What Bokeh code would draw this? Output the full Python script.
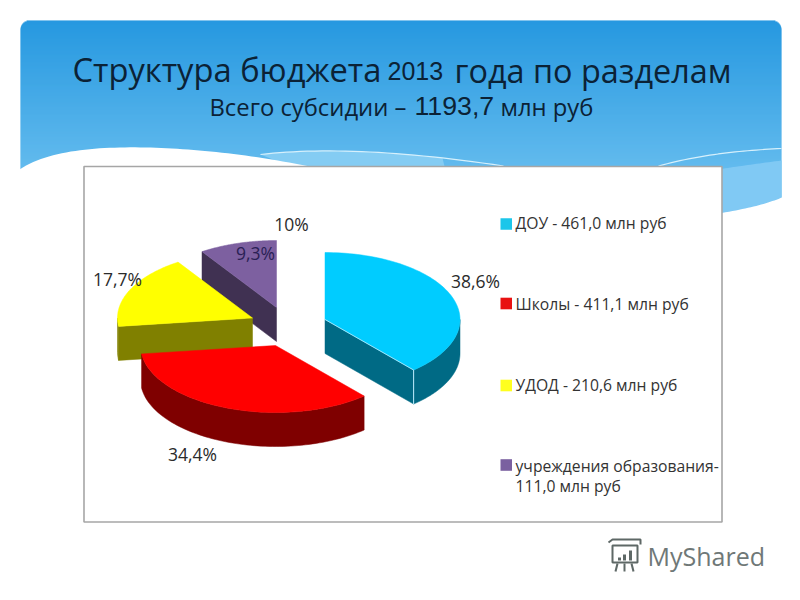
import numpy as np
from bokeh.plotting import figure
from bokeh.embed import file_html
from bokeh.resources import INLINE
from bokeh.core.properties import value

# ---- data ----
categories = ["ДОУ", "Школы", "УДОД", "учреждения образования"]
shares = [38.6, 34.4, 17.7, 9.3]
share_labels = ["38,6%", "34,4%", "17,7%", "9,3%"]
extra_label = "10%"
legend_lines = [["ДОУ - 461,0 млн руб"], ["Школы - 411,1 млн руб"], ["УДОД - 210,6 млн руб"],
                ["учреждения образования-", "111,0 млн руб"]]

# ---- style / layout ----
top_colors = ["#00CCFF", "#FF0000", "#FFFF00", "#7D60A0"]
wall_colors = ["#006A85", "#7F0000", "#808000", "#403152"]
legend_colors = ["#1CC6EA", "#E81212", "#FFFF1E", "#7A60A0"]
apexes = [(324.5, 319), (275, 345), (252, 317.5), (276, 307)]   # exploded slice centres
label_pos = [(475, 280), (192, 453), (117, 278), (255, 252)]
label_colors = ["#2B2B2B", "#2B2B2B", "#2B2B2B", "#2A1F55"]
RX, RY, DEPTH = 135, 67, 34
TITLE = "#0B2236"
FONT = value("Open Sans")
ARIAL = value("Liberation Sans")

p = figure(width=784, height=584, output_backend="svg", toolbar_location=None,
           x_range=(0, 784), y_range=(584, 0), min_border=0, outline_line_color=None)
p.axis.visible = False
p.grid.visible = False
p.background_fill_color = "white"
p.border_fill_color = "white"


def bezier(p0, p1, p2, p3, n=30):
    t = np.linspace(0, 1, n)[:, None]
    P = [np.array(q, float) for q in (p0, p1, p2, p3)]
    r = (1-t)**3*P[0] + 3*(1-t)**2*t*P[1] + 3*(1-t)*t**2*P[2] + t**3*P[3]
    return r[:, 0].tolist(), r[:, 1].tolist()


# header gradient, rounded at the top
X0, X1, Y0, Y1, R = 20, 781, 20, 214, 9
c0, c1 = np.array([8, 138, 220]), np.array([78, 178, 236])
ys = np.arange(Y0, Y1)
lefts, rights, cols = [], [], []
for y in ys:
    f = (y - Y0) / (170 - Y0)
    c = (c0 + (c1 - c0) * min(f, 1)).astype(int)
    ins = R - np.sqrt(max(R**2 - (R - (y + .5 - Y0))**2, 0)) if y - Y0 < R else 0
    lefts.append(X0 + ins); rights.append(X1 - ins)
    cols.append("#%02x%02x%02x" % tuple(c))
p.quad(left=lefts, right=rights, top=ys.tolist(), bottom=(ys + 1.2).tolist(), fill_color=cols, line_color=None)

# lighter wave bands
xa, ya = bezier((260, 154), (320, 147), (400, 150), (503, 165.5))
keep = [k for k, v in enumerate(xa) if v <= 450]
p.patch([xa[k] for k in keep] + [445, 300], [ya[k] for k in keep] + [170, 170], fill_color="#84CCF3", line_color=None)
p.line(xa, ya, line_color="#D6F0FC", line_width=1.2)
xr, yr = bezier((700, 172), (722, 168), (750, 164), (781, 160))
p.patch(xr + [781, 700], yr + [214, 214], fill_color="#80C9F4", line_color=None)
xa, ya = bezier((658, 165.5), (700, 154), (740, 150), (781, 148))
p.line(xa, ya, line_color="#D6F0FC", line_width=1.2)

# white wave
xa, ya = bezier((16, 171), (45, 150), (95, 146), (145, 147))
xb, yb = bezier((145, 147), (195, 148), (250, 154), (315, 167))
p.patch(xa + xb + [315, 16], ya + yb + [225, 225], fill_color="white", line_color=None)
xc, yc = bezier((700, 216), (745, 209), (765, 204), (784, 196))
p.patch(xc + [784, 700], yc + [230, 230], fill_color="white", line_color=None)

# panel
p.quad(left=83.5, right=721.5, top=166, bottom=521.5, fill_color="white", line_color="#A6A6A6", line_width=1.6)

# 3D pie built from the shares
edges = np.concatenate([[0], np.cumsum(shares)]) / np.sum(shares) * 2 * np.pi


def rim(cx, cy, a, b, dy=0.0, n=80):
    t = np.linspace(a, b, n)
    return (cx + RX * np.sin(t)).tolist(), (cy - RY * np.cos(t) + dy).tolist()


for i in [3, 2, 1, 0]:
    a, b = edges[i], edges[i + 1]
    cx, cy = apexes[i]
    # outer wall (front half only)
    lo, hi = max(a, np.pi / 2), min(b, 3 * np.pi / 2)
    if hi > lo:
        tx, ty = rim(cx, cy, lo, hi)
        bx, by = rim(cx, cy, lo, hi, DEPTH)
        p.patch(tx + bx[::-1], ty + by[::-1], fill_color=wall_colors[i], line_color=wall_colors[i], line_width=.5)
    # radial walls that face the viewer
    for ang in (a, b):
        ex, ey = cx + RX * np.sin(ang), cy - RY * np.cos(ang)
        visible = (ang == a and np.pi < ang < 2 * np.pi) or (ang == b and 0 < ang < np.pi)
        if visible:
            p.patch([cx, ex, ex, cx], [cy, ey, ey + DEPTH, cy + DEPTH],
                    fill_color=wall_colors[i], line_color=wall_colors[i], line_width=.5)
    tx, ty = rim(cx, cy, a, b)
    p.patch([cx] + tx, [cy] + ty, fill_color=top_colors[i], line_color=top_colors[i], line_width=.5)
    if i == 0:
        ex, ey = tx[-1], ty[-1]
        p.line([ex, ex], [ey, ey + DEPTH], line_color="#BFEFFF", line_width=1)
        p.line([cx, ex], [cy, ey], line_color="#BFEFFF", line_width=.8)

# percent labels
for s, (x, y), c in zip(share_labels, label_pos, label_colors):
    p.text([x], [y], text=[s], text_font=FONT, text_font_size="17.5px", text_color=c,
           text_align="center", text_baseline="middle")
p.text([291], [223], text=[extra_label], text_font=FONT, text_font_size="17.5px", text_color="#2B2B2B",
       text_align="center", text_baseline="middle")

# legend
marker_y = [223.5, 303, 385, 464.5]
text_y = [[222], [303], [384], [465, 485]]
for lines, col, my, tys in zip(legend_lines, legend_colors, marker_y, text_y):
    p.quad(left=500, right=511.5, top=my - 5.8, bottom=my + 5.8, fill_color=col, line_color=None)
    for ln, ty in zip(lines, tys):
        p.text([515], [ty], text=[ln], text_font=FONT, text_font_size="15.7px", text_color="#333333",
               text_align="left", text_baseline="middle")


def label(x, y, s, size, font=FONT, color=TITLE):
    p.text([x], [y], text=[s], text_font=font, text_font_size=size, text_color=color,
           text_align="left", text_baseline="middle")


# headline
label(72, 69, "Структура бюджета", "32.7px")
label(387, 70, "2013", "25px", ARIAL)
label(454, 69, "года по разделам", "32.4px")
label(209, 106, "Всего субсидии –", "23.8px")
label(414, 105, "1193,7", "26.7px", ARIAL)
label(500, 106, "млн руб", "23.8px")

# watermark
W = "#5E6866"
label(647, 555, "MyShared", "25px", FONT, "#6F7877")
p.quad(left=612, right=637, top=545, bottom=562, fill_color=None, line_color=W, line_width=2)
p.line([608, 612, 640, 640], [542, 539, 539, 544], line_color=W, line_width=2)
p.vbar(x=[619, 624, 630], width=3, top=[557, 554, 550], bottom=[560, 560, 560], fill_color=W, line_color=None)
p.multi_line([[617, 615], [624, 624], [631, 633]], [[563, 571], [563, 571], [563, 571]], line_color=W, line_width=2)

open("out.html", "w").write(file_html(p, INLINE))
